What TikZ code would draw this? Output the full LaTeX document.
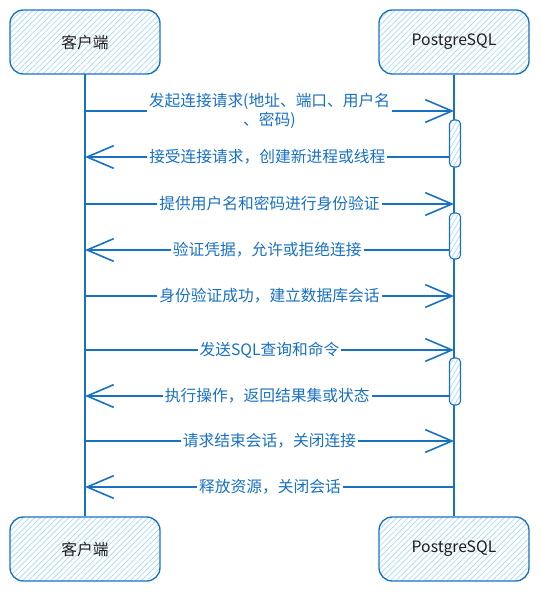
\documentclass[tikz,border=0pt]{standalone}
\usepackage{fontspec}
\setmainfont{Noto Sans CJK SC}
\usetikzlibrary{arrows.meta,patterns.meta}
\definecolor{stroke}{HTML}{1971C2}
\definecolor{hatch}{HTML}{A5D8FF}
\definecolor{ink}{HTML}{1E1E1E}
\begin{document}
\begin{tikzpicture}[x=0.75pt,y=-0.75pt,
  actor/.style={draw=stroke, line width=1pt, rounded corners=10pt,
    minimum width=112.5pt, minimum height=48pt, text=ink,
    font=\fontsize{11.8}{13}\selectfont, inner sep=0pt,
    preaction={fill=white},
    pattern={Lines[angle=45,distance=3pt,line width=0.5pt]}, pattern color=hatch},
  actbar/.style={draw=stroke, line width=0.8pt, rounded corners=3pt,
    minimum width=8.25pt, inner sep=0pt,
    preaction={fill=white},
    pattern={Lines[angle=60,distance=3pt,line width=0.5pt]}, pattern color=hatch},
  life/.style={draw=stroke, line width=1.2pt},
  msg/.style={draw=stroke, line width=1.2pt,
    -{Straight Barb[length=20pt,width=17pt,line width=1.2pt]}},
  lbl/.style={fill=white, text=stroke, inner sep=1.5pt,
    font=\fontsize{11.8}{14.5}\selectfont, align=center}
]
\useasboundingbox (0,0) rectangle (540,592);

% actors
\node[actor] (c1) at (85,42) {客户端};
\node[actor] (s1) at (454,42) {PostgreSQL};
\node[actor] (c2) at (85,549) {客户端};
\node[actor] (s2) at (454,549) {PostgreSQL};

% lifelines
\draw[life] (c1.south) -- (c2.north);
\draw[life] (s1.south) -- (s2.north);

% activation bars
\node[actbar, minimum height=35.25pt] (b1) at (455,143.5) {};
\node[actbar, minimum height=34.5pt] (b2) at (455,236) {};
\node[actbar, minimum height=35.25pt] (b3) at (455,381.5) {};

% message end points
\coordinate (cA) at (85,111);  \coordinate (sA) at (454,111);
\coordinate (cB) at (85,157);  \coordinate (sB) at (449.5,157);
\coordinate (cC) at (85,204);  \coordinate (sC) at (454,204);
\coordinate (cD) at (85,250);  \coordinate (sD) at (449.5,250);
\coordinate (cE) at (85,296);  \coordinate (sE) at (454,296);
\coordinate (cF) at (85,350);  \coordinate (sF) at (454,350);
\coordinate (cG) at (85,396);  \coordinate (sG) at (449.5,396);
\coordinate (cH) at (85,441);  \coordinate (sH) at (454,441);
\coordinate (cI) at (85,487);  \coordinate (sI) at (455,487);

% messages
\draw[msg] (cA) -- node[lbl] (lA) {发起连接请求(地址、端口、用户名\\、密码)} (sA);
\draw[msg] (sB) -- node[lbl] (lB) {接受连接请求，创建新进程或线程} (cB);
\draw[msg] (cC) -- node[lbl] (lC) {提供用户名和密码进行身份验证} (sC);
\draw[msg] (sD) -- node[lbl] (lD) {验证凭据，允许或拒绝连接} (cD);
\draw[msg] (cE) -- node[lbl] (lE) {身份验证成功，建立数据库会话} (sE);
\draw[msg] (cF) -- node[lbl] (lF) {发送SQL查询和命令} (sF);
\draw[msg] (sG) -- node[lbl] (lG) {执行操作，返回结果集或状态} (cG);
\draw[msg] (cH) -- node[lbl] (lH) {请求结束会话，关闭连接} (sH);
\draw[msg] (sI) -- node[lbl] (lI) {释放资源，关闭会话} (cI);
\end{tikzpicture}
\end{document}
